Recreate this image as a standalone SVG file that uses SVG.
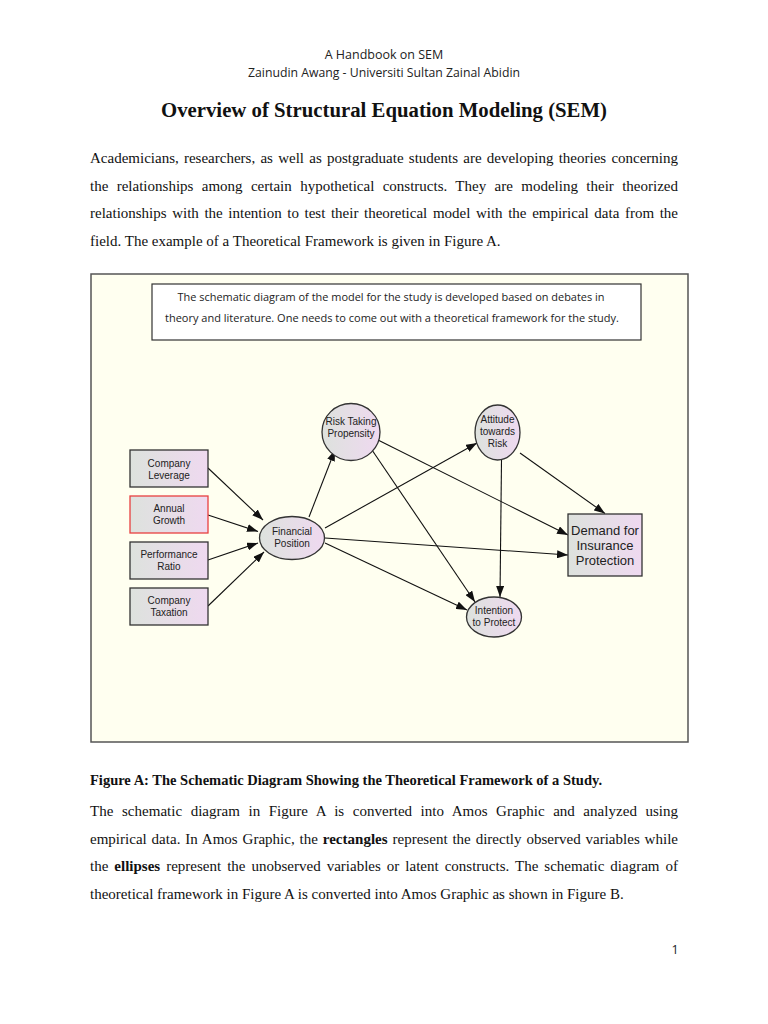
<svg xmlns="http://www.w3.org/2000/svg" width="768" height="1024" viewBox="0 0 768 1024">
<style>
.hdr{font-family:"Open Sans","Liberation Sans",sans-serif;font-size:12.5px;fill:#222;text-anchor:middle}
.title{font-family:"Liberation Serif","DejaVu Serif",serif;font-size:20px;font-weight:bold;fill:#111;text-anchor:middle}
.body{font-family:"Liberation Serif",serif;font-size:15px;fill:#111}
.cap{font-family:"Liberation Serif",serif;font-size:14.5px;font-weight:bold;fill:#111}
.note{font-family:"Open Sans","Liberation Sans",sans-serif;font-size:10.5px;fill:#222;text-anchor:middle}
.lbl{font-family:"Liberation Sans",Arial,sans-serif;font-size:10px;fill:#222;text-anchor:middle}
.big{font-family:"Liberation Sans",Arial,sans-serif;font-size:13px;fill:#222;text-anchor:middle}
.node{fill:url(#g);stroke:#333;stroke-width:1.3}
.red{fill:url(#g);stroke:#e84040;stroke-width:1.3}
.edge{stroke:#111;stroke-width:1.1;fill:none;marker-end:url(#ah)}
</style>
<defs>
<linearGradient id="g" x1="0" y1="0" x2="1" y2="0">
<stop offset="0" stop-color="#dde2dd"/>
<stop offset="1" stop-color="#efd9f0"/>
</linearGradient>
<marker id="ah" markerWidth="11" markerHeight="8" refX="11" refY="4" orient="auto" markerUnits="userSpaceOnUse">
<path d="M0,0 L11,4 L0,8 z" fill="#111"/>
</marker>
</defs>
<rect width="768" height="1024" fill="#ffffff"/>
<text class="hdr" x="384" y="59">A Handbook on SEM</text>
<text class="hdr" x="384" y="77" textLength="272" lengthAdjust="spacingAndGlyphs">Zainudin Awang - Universiti Sultan Zainal Abidin</text>
<text class="title" x="384" y="117" textLength="446" lengthAdjust="spacingAndGlyphs">Overview of Structural Equation Modeling (SEM)</text>
<text class="body" x="90" y="163" word-spacing="1.5" textLength="588" lengthAdjust="spacing">Academicians, researchers, as well as postgraduate students are developing theories concerning</text>
<text class="body" x="90" y="191" word-spacing="4.6" textLength="588" lengthAdjust="spacing">the relationships among certain hypothetical constructs. They are modeling their theorized</text>
<text class="body" x="90" y="218" word-spacing="1.86" textLength="588" lengthAdjust="spacing">relationships with the intention to test their theoretical model with the empirical data from the</text>
<text class="body" x="90" y="246">field. The example of a Theoretical Framework is given in Figure A.</text>
<rect x="91" y="274" width="597" height="468" fill="#fffff0" stroke="#555" stroke-width="1.5"/>
<g id="note">
<rect x="152" y="284" width="489" height="56" fill="#ffffff" stroke="#333" stroke-width="1.2"/>
<text class="note" x="391" y="301" textLength="427" lengthAdjust="spacingAndGlyphs">The schematic diagram of the model for the study is developed based on debates in</text>
<text class="note" x="392" y="322" textLength="454" lengthAdjust="spacingAndGlyphs">theory and literature. One needs to come out with a theoretical framework for the study.</text>
</g>
<g id="connectors">
<line class="edge" x1="208" y1="468" x2="263" y2="520"/>
<line class="edge" x1="208" y1="515" x2="258" y2="531.5"/>
<line class="edge" x1="208" y1="560" x2="258" y2="543"/>
<line class="edge" x1="208" y1="606" x2="264" y2="552"/>
<line class="edge" x1="309" y1="517" x2="335" y2="450"/>
<line class="edge" x1="325" y1="528" x2="477" y2="443"/>
<line class="edge" x1="325" y1="538" x2="568" y2="555"/>
<line class="edge" x1="325" y1="543" x2="467" y2="610"/>
<line class="edge" x1="378" y1="440" x2="568" y2="535"/>
<line class="edge" x1="372" y1="450" x2="475" y2="602"/>
<line class="edge" x1="501.5" y1="460" x2="500" y2="597"/>
<line class="edge" x1="520" y1="453" x2="605" y2="513.5"/>
</g>
<g id="company_leverage">
<rect class="node" x="130" y="450" width="78" height="37"/>
<text class="lbl" x="169" y="467">Company</text>
<text class="lbl" x="169" y="479">Leverage</text>
</g>
<g id="annual_growth">
<rect class="red" x="130" y="496" width="78" height="37"/>
<text class="lbl" x="169" y="512">Annual</text>
<text class="lbl" x="169" y="524">Growth</text>
</g>
<g id="performance_ratio">
<rect class="node" x="130" y="542" width="78" height="37"/>
<text class="lbl" x="169" y="558">Performance</text>
<text class="lbl" x="169" y="570">Ratio</text>
</g>
<g id="company_taxation">
<rect class="node" x="130" y="588" width="78" height="37"/>
<text class="lbl" x="169" y="604">Company</text>
<text class="lbl" x="169" y="616">Taxation</text>
</g>
<g id="financial_position">
<ellipse class="node" cx="292" cy="538" rx="32.5" ry="21.5"/>
<text class="lbl" x="292" y="535">Financial</text>
<text class="lbl" x="292" y="547">Position</text>
</g>
<g id="risk_taking_propensity">
<ellipse class="node" cx="351" cy="432" rx="29" ry="28.5"/>
<text class="lbl" x="351" y="425">Risk Taking</text>
<text class="lbl" x="351" y="437">Propensity</text>
</g>
<g id="attitude_towards_risk">
<ellipse class="node" cx="497.5" cy="432.5" rx="22.5" ry="27.5"/>
<text class="lbl" x="497.5" y="423">Attitude</text>
<text class="lbl" x="497.5" y="435">towards</text>
<text class="lbl" x="497.5" y="447">Risk</text>
</g>
<g id="demand_for_insurance_protection">
<rect class="node" x="568" y="514" width="74" height="62"/>
<text class="big" x="605" y="535">Demand for</text>
<text class="big" x="605" y="550">Insurance</text>
<text class="big" x="605" y="565">Protection</text>
</g>
<g id="intention_to_protect">
<ellipse class="node" cx="494" cy="617" rx="27.5" ry="20"/>
<text class="lbl" x="494" y="614">Intention</text>
<text class="lbl" x="494" y="626">to Protect</text>
</g>
<text class="cap" x="90" y="785">Figure A: The Schematic Diagram Showing the Theoretical Framework of a Study.</text>
<text class="body" x="90" y="816" word-spacing="4.7" textLength="588" lengthAdjust="spacing">The schematic diagram in Figure A is converted into Amos Graphic and analyzed using</text>
<text class="body" x="90" y="844" word-spacing="1.1" textLength="588" lengthAdjust="spacing">empirical data. In Amos Graphic, the <tspan font-weight="bold">rectangles</tspan> represent the directly observed variables while</text>
<text class="body" x="90" y="871" word-spacing="2.25" textLength="588" lengthAdjust="spacing">the <tspan font-weight="bold">ellipses</tspan> represent the unobserved variables or latent constructs. The schematic diagram of</text>
<text class="body" x="90" y="899">theoretical framework in Figure A is converted into Amos Graphic as shown in Figure B.</text>
<text class="hdr" x="675" y="954">1</text>
</svg>
